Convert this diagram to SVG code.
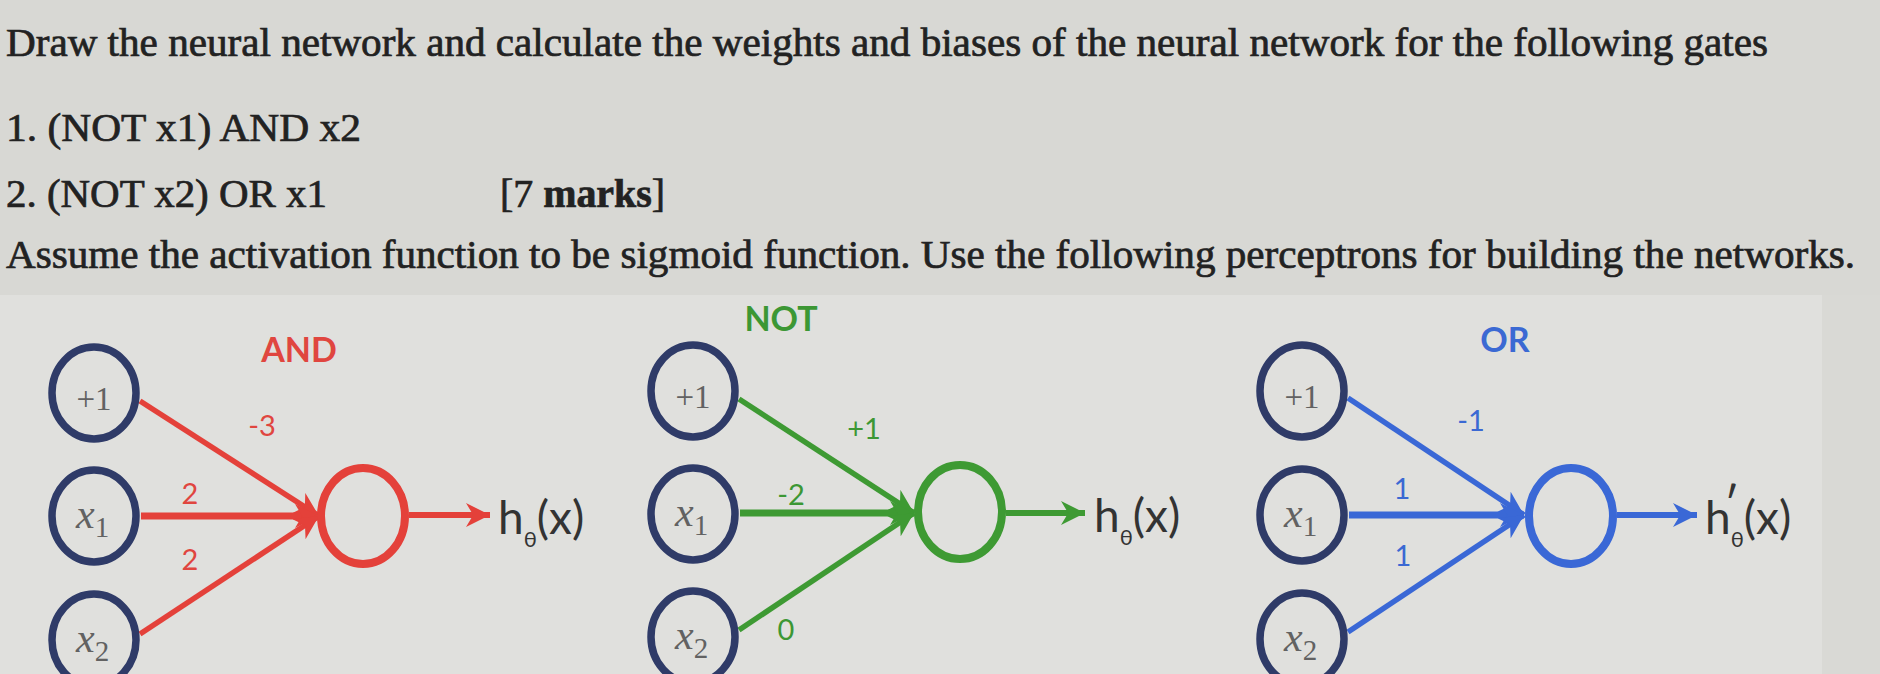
<svg xmlns="http://www.w3.org/2000/svg" width="1880" height="674" viewBox="0 0 1880 674">
<style>
.q{font-family:"Liberation Serif","Times New Roman",serif;font-size:39px;fill:#222;stroke:#222;stroke-width:0.7}
.in{fill:none;stroke:#2f3b68;stroke-width:7.5}
.lab{font-family:"Liberation Serif",serif;font-size:33px;fill:#626262}
.xl{font-family:"Liberation Serif",serif;font-size:42px;font-style:italic;fill:#626262}
.xs{font-style:normal;font-size:29px}
.h{font-family:Lato,"Open Sans",sans-serif;font-size:46px;fill:#333}
.t{font-family:Lato,"Open Sans",sans-serif;font-size:34px;font-weight:bold;text-anchor:middle}
.w{font-family:Lato,"Open Sans",sans-serif;font-size:29px;text-anchor:middle}
.red{fill:#e0463f}.grn{fill:#3c9734}.blu{fill:#3b69d3}
.lr{stroke:#e4413a;fill:none}.lg{stroke:#3e9a33;fill:none}.lb{stroke:#3a68d6;fill:none}
</style>
<defs>
<marker id="ar-r" viewBox="0 0 10 10" refX="10" refY="5" markerWidth="24" markerHeight="24" markerUnits="userSpaceOnUse" orient="auto"><path d="M0,0 L10,5 L0,10 L3,5 z" fill="#e4413a"/></marker>
<marker id="ar-g" viewBox="0 0 10 10" refX="10" refY="5" markerWidth="24" markerHeight="24" markerUnits="userSpaceOnUse" orient="auto"><path d="M0,0 L10,5 L0,10 L3,5 z" fill="#3e9a33"/></marker>
<marker id="ar-b" viewBox="0 0 10 10" refX="10" refY="5" markerWidth="24" markerHeight="24" markerUnits="userSpaceOnUse" orient="auto"><path d="M0,0 L10,5 L0,10 L3,5 z" fill="#3a68d6"/></marker>
</defs>
<rect width="1880" height="674" fill="#d8d8d4"/>
<rect x="0" y="295" width="1822" height="379" fill="#e0e0dd"/>
<rect x="1822" y="295" width="58" height="379" fill="#d9d9d5"/>

<g id="question">
<text class="q" x="6" y="56" textLength="1762" lengthAdjust="spacingAndGlyphs">Draw the neural network and calculate the weights and biases of the neural network for the following gates</text>
<text class="q" x="6" y="141" textLength="355" lengthAdjust="spacingAndGlyphs">1. (NOT x1) AND x2</text>
<text class="q" x="6" y="207" textLength="321" lengthAdjust="spacingAndGlyphs">2. (NOT x2) OR x1</text>
<text class="q" x="500" y="207" textLength="165" lengthAdjust="spacingAndGlyphs">[7 <tspan font-weight="bold">marks</tspan>]</text>
<text class="q" x="6" y="268" textLength="1849" lengthAdjust="spacingAndGlyphs">Assume the activation function to be sigmoid function. Use the following perceptrons for building the networks.</text>
</g>

<g id="connectors">
<line class="lr" x1="140" y1="401" x2="319" y2="516" stroke-width="5.5" marker-end="url(#ar-r)"/>
<line class="lr" x1="141" y1="516" x2="319" y2="516" stroke-width="7" marker-end="url(#ar-r)"/>
<line class="lr" x1="140" y1="634" x2="319" y2="516" stroke-width="5.5" marker-end="url(#ar-r)"/>
<line class="lr" x1="409" y1="515" x2="490" y2="515" stroke-width="6" marker-end="url(#ar-r)"/>

<line class="lg" x1="739" y1="399" x2="914" y2="513" stroke-width="5.5" marker-end="url(#ar-g)"/>
<line class="lg" x1="740" y1="513" x2="914" y2="513" stroke-width="7" marker-end="url(#ar-g)"/>
<line class="lg" x1="739" y1="630" x2="914" y2="513" stroke-width="5.5" marker-end="url(#ar-g)"/>
<line class="lg" x1="1006" y1="513" x2="1085" y2="513" stroke-width="6" marker-end="url(#ar-g)"/>

<line class="lb" x1="1348" y1="398" x2="1524" y2="515" stroke-width="5.5" marker-end="url(#ar-b)"/>
<line class="lb" x1="1349" y1="515" x2="1524" y2="515" stroke-width="7" marker-end="url(#ar-b)"/>
<line class="lb" x1="1348" y1="632" x2="1524" y2="515" stroke-width="5.5" marker-end="url(#ar-b)"/>
<line class="lb" x1="1617" y1="515" x2="1697" y2="515" stroke-width="6" marker-end="url(#ar-b)"/>
</g>

<g id="and-gate">
<text class="t red" x="299" y="362">AND</text>
<g id="and-bias"><ellipse class="in" cx="94" cy="393" rx="42" ry="46"/><text class="lab" x="94" y="410" text-anchor="middle">+1</text></g>
<g id="and-x1"><ellipse class="in" cx="94" cy="516" rx="42" ry="46"/><text class="xl" x="76" y="528">x<tspan class="xs" dy="9">1</tspan></text></g>
<g id="and-x2"><ellipse class="in" cx="94" cy="640" rx="42" ry="46"/><text class="xl" x="76" y="652">x<tspan class="xs" dy="9">2</tspan></text></g>
<g id="and-out"><ellipse cx="363" cy="516" rx="42" ry="48" fill="none" stroke="#e4413a" stroke-width="8"/></g>
<text class="w red" x="262" y="436">-3</text>
<text class="w red" x="190" y="504">2</text>
<text class="w red" x="190" y="570">2</text>
<text class="h" x="498" y="534">h<tspan font-size="22" dy="13">θ</tspan><tspan dy="-13">(x)</tspan></text>
</g>

<g id="not-gate">
<text class="t grn" x="781" y="331">NOT</text>
<g id="not-bias"><ellipse class="in" cx="693" cy="391" rx="42" ry="46"/><text class="lab" x="693" y="408" text-anchor="middle">+1</text></g>
<g id="not-x1"><ellipse class="in" cx="693" cy="514" rx="42" ry="46"/><text class="xl" x="675" y="526">x<tspan class="xs" dy="9">1</tspan></text></g>
<g id="not-x2"><ellipse class="in" cx="693" cy="637" rx="42" ry="46"/><text class="xl" x="675" y="649">x<tspan class="xs" dy="9">2</tspan></text></g>
<g id="not-out"><ellipse cx="960" cy="512" rx="42" ry="47" fill="none" stroke="#3e9a33" stroke-width="8"/></g>
<text class="w grn" x="864" y="439">+1</text>
<text class="w grn" x="791" y="505">-2</text>
<text class="w grn" x="786" y="640">0</text>
<text class="h" x="1094" y="532">h<tspan font-size="22" dy="13">θ</tspan><tspan dy="-13">(x)</tspan></text>
</g>

<g id="or-gate">
<text class="t blu" x="1505" y="352">OR</text>
<g id="or-bias"><ellipse class="in" cx="1302" cy="391" rx="42" ry="46"/><text class="lab" x="1302" y="408" text-anchor="middle">+1</text></g>
<g id="or-x1"><ellipse class="in" cx="1302" cy="515" rx="42" ry="46"/><text class="xl" x="1284" y="527">x<tspan class="xs" dy="9">1</tspan></text></g>
<g id="or-x2"><ellipse class="in" cx="1302" cy="639" rx="42" ry="46"/><text class="xl" x="1284" y="651">x<tspan class="xs" dy="9">2</tspan></text></g>
<g id="or-out"><ellipse cx="1571" cy="516" rx="42" ry="48" fill="none" stroke="#3a68d6" stroke-width="8"/></g>
<text class="w blu" x="1471" y="431">-1</text>
<text class="w blu" x="1402" y="499">1</text>
<text class="w blu" x="1403" y="566">1</text>
<text class="h" x="1705" y="534">h<tspan font-size="22" dy="13">θ</tspan><tspan dy="-13">(x)</tspan></text>
<text class="h" x="1724" y="521" font-size="18">′</text>
</g>
</svg>
